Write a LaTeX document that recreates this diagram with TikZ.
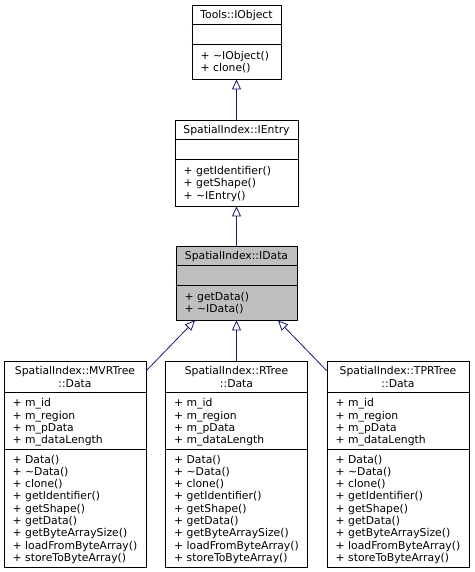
\documentclass[tikz,border=0pt]{standalone}
\usepackage{fontspec}
\setmainfont{DejaVu Sans}
\usetikzlibrary{arrows.meta}
\definecolor{edgeblue}{HTML}{191970}
\definecolor{idatafill}{HTML}{BFBFBF}
\tikzset{
  classbox/.style={draw=black, line width=0.8pt, inner sep=0pt},
  divider/.style={draw=black, line width=0.8pt},
  txt/.style={anchor=base west, inner sep=0pt, font=\fontsize{10.8}{12.3}\selectfont},
  ttl/.style={anchor=base, inner sep=0pt, font=\fontsize{10.8}{12.3}\selectfont},
  inh/.style={draw=edgeblue, line width=0.8pt, -{Triangle[open, length=10pt, width=9pt]}},
}
\newcommand\seclines[4]{%
  \foreach \t [count=\i] in {#4} \node[txt] (#1\i) at (#2, {#3+12.3*(\i-1)}) {\t};%
}
\begin{document}
\begin{tikzpicture}[x=1pt,y=-1pt]
\path[use as bounding box, fill=white] (0,0) rectangle (474,572);

% Tools::IObject
\node[classbox, fill=white, minimum width=89pt, minimum height=74pt] (obj) at (236.5,42) {};
\draw[divider] ([yshift=-20pt]obj.north west) -- ([yshift=-20pt]obj.north east);
\draw[divider] ([yshift=-40pt]obj.north west) -- ([yshift=-40pt]obj.north east);
\node[ttl] (objt) at (236.5,18.8) {Tools::IObject};
\seclines{objm}{200.5}{59.6}{{+ \textasciitilde IObject()},{+ clone()}}

% SpatialIndex::IEntry
\node[classbox, fill=white, minimum width=123pt, minimum height=86pt] (entry) at (236.5,163) {};
\draw[divider] ([yshift=-20pt]entry.north west) -- ([yshift=-20pt]entry.north east);
\draw[divider] ([yshift=-40pt]entry.north west) -- ([yshift=-40pt]entry.north east);
\node[ttl] (entryt) at (236.5,133.8) {SpatialIndex::IEntry};
\seclines{entrym}{183.5}{174.4}{{+ getIdentifier()},{+ getShape()},{+ \textasciitilde IEntry()}}

% SpatialIndex::IData
\node[classbox, fill=idatafill, minimum width=121pt, minimum height=74pt] (data) at (236.5,283) {};
\draw[divider] ([yshift=-20pt]data.north west) -- ([yshift=-20pt]data.north east);
\draw[divider] ([yshift=-40pt]data.north west) -- ([yshift=-40pt]data.north east);
\node[ttl] (datat) at (236.5,259.8) {SpatialIndex::IData};
\seclines{datam}{184.5}{300.6}{{+ getData()},{+ \textasciitilde IData()}}

% Derived Data classes
\node[classbox, fill=white, minimum width=142pt, minimum height=206pt] (mvr) at (75,464) {};
\node[classbox, fill=white, minimum width=142pt, minimum height=206pt] (rtree) at (236.5,464) {};
\node[classbox, fill=white, minimum width=142pt, minimum height=206pt] (tpr) at (398,464) {};
\foreach \n in {mvr,rtree,tpr}{
  \draw[divider] ([yshift=-32pt]\n.north west) -- ([yshift=-32pt]\n.north east);
  \draw[divider] ([yshift=-89pt]\n.north west) -- ([yshift=-89pt]\n.north east);
}
\node[ttl] (mvrt1) at (75,374.8) {SpatialIndex::MVRTree};
\node[ttl] (mvrt2) at (75,387.1) {::Data};
\node[ttl] (rtreet1) at (236.5,374.8) {SpatialIndex::RTree};
\node[ttl] (rtreet2) at (236.5,387.1) {::Data};
\node[ttl] (tprt1) at (398,374.8) {SpatialIndex::TPRTree};
\node[ttl] (tprt2) at (398,387.1) {::Data};

\seclines{mvra}{12.5}{406.8}{{+ m\_id},{+ m\_region},{+ m\_pData},{+ m\_dataLength}}
\seclines{rtreea}{174}{406.8}{{+ m\_id},{+ m\_region},{+ m\_pData},{+ m\_dataLength}}
\seclines{tpra}{335.5}{406.8}{{+ m\_id},{+ m\_region},{+ m\_pData},{+ m\_dataLength}}

\seclines{mvrm}{12.5}{463.0}{{+ Data()},{+ \textasciitilde Data()},{+ clone()},{+ getIdentifier()},{+ getShape()},{+ getData()},{+ getByteArraySize()},{+ loadFromByteArray()},{+ storeToByteArray()}}
\seclines{rtreem}{174}{463.0}{{+ Data()},{+ \textasciitilde Data()},{+ clone()},{+ getIdentifier()},{+ getShape()},{+ getData()},{+ getByteArraySize()},{+ loadFromByteArray()},{+ storeToByteArray()}}
\seclines{tprm}{335.5}{463.0}{{+ Data()},{+ \textasciitilde Data()},{+ clone()},{+ getIdentifier()},{+ getShape()},{+ getData()},{+ getByteArraySize()},{+ loadFromByteArray()},{+ storeToByteArray()}}

% Inheritance connectors
\draw[inh] (entry.north) -- (obj.south);
\draw[inh] (data.north) -- (entry.south);
\draw[inh] (rtree.north) -- (data.south);
\draw[inh] ([yshift=-10pt]mvr.north east) -- ([xshift=-41.5pt]data.south);
\draw[inh] ([yshift=-10pt]tpr.north west) -- ([xshift=41.5pt]data.south);
\end{tikzpicture}
\end{document}
